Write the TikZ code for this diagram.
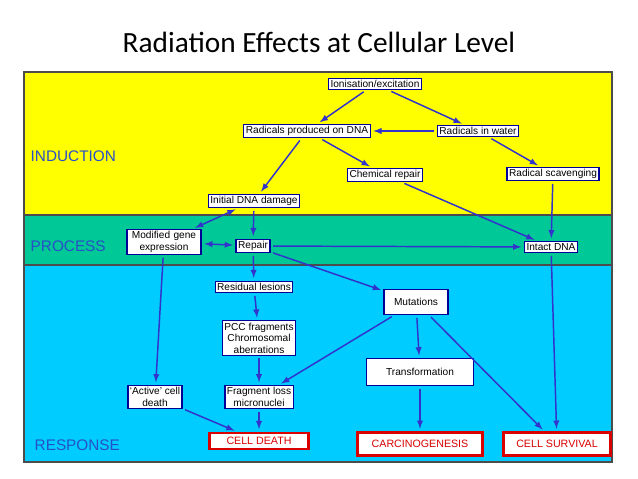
\documentclass[tikz,border=0pt]{standalone}
\usepackage{fontspec}
\setmainfont{Liberation Sans}
\newfontfamily\titlefont{Carlito}
\definecolor{induct}{RGB}{255,255,0}
\definecolor{procs}{RGB}{0,200,150}
\definecolor{resp}{RGB}{0,204,255}
\definecolor{flow}{RGB}{50,50,205}
\definecolor{lab}{RGB}{40,80,200}
\tikzset{
  box/.style={draw=navy, fill=white, line width=0.9pt, inner sep=1.5pt,
    font=\fontsize{7.6}{8.6}\selectfont, align=center},
  outbox/.style={draw=red!85!black, fill=white, line width=2pt, inner sep=3pt,
    text=red!85!black, font=\fontsize{8}{9}\selectfont, minimum height=17pt},
  link/.style={->, >=latex, draw=flow, line width=1.1pt, shorten <=2pt, shorten >=2pt},
  stage/.style={text=lab, font=\fontsize{11.5}{12}\selectfont, anchor=west}
}
\colorlet{navy}{blue!60!black}
\begin{document}
\begin{tikzpicture}[x=0.75pt, y=-0.75pt]
\useasboundingbox (0,0) rectangle (638,478);

% title
\node (title) at (319,42) {\titlefont\fontsize{22}{24}\selectfont Radiation Effects at Cellular Level};

% bands
\fill[induct] (24,72) rectangle (612,215);
\fill[procs] (24,215) rectangle (612,265);
\fill[resp] (24,265) rectangle (612,462);
\draw[black!70, line width=0.8pt] (24,72) rectangle (612,462);
\draw[black!70, line width=0.8pt] (24,215) -- (612,215);
\draw[black!70, line width=0.8pt] (24,265) -- (612,265);

% stage labels
\node[stage] (induction) at (26,156) {INDUCTION};
\node[stage] (process) at (26,246) {PROCESS};
\node[stage] (response) at (30,445) {RESPONSE};

% induction
\node[box] (ion) at (375,84) {Ionisation/excitation};
\node[box] (raddna) at (307,131) {Radicals produced on DNA};
\node[box] (radwater) at (478,131) {Radicals in water};
\node[box] (chem) at (385,175) {Chemical repair};
\node[box] (scav) at (553,174) {Radical scavenging};
\node[box] (initial) at (254,201) {Initial DNA damage};

% process
\node[box, text width=70pt*0.75] (gene) at (164,242) {Modified gene expression};
\node[box] (repair) at (253,246) {Repair};
\node[box] (intact) at (551,247) {Intact DNA};

% response
\node[box] (residual) at (254,287) {Residual lesions};
\node[box, minimum width=48pt, minimum height=19pt] (mut) at (416,302) {Mutations};
\node[box] (pcc) at (259,338) {PCC fragments\\Chromosomal\\aberrations};
\node[box, minimum width=80pt, minimum height=20pt] (transf) at (420,372) {Transformation};
\node[box] (active) at (155,397) {`Active' cell\\death};
\node[box] (fragment) at (259,397) {Fragment loss\\micronuclei};
\node[outbox, minimum height=12pt, inner sep=2pt, minimum width=74pt] (death) at (259,441) {CELL DEATH};
\node[outbox, minimum width=94pt] (carcino) at (420,444) {CARCINOGENESIS};
\node[outbox, minimum width=80pt] (survival) at (557,444) {CELL SURVIVAL};

% connectors
\draw[link] (ion) -- (raddna);
\draw[link] (ion) -- (radwater);
\draw[link] (radwater) -- (raddna);
\draw[link] (raddna) -- (initial);
\draw[link] (raddna) -- (chem);
\draw[link] (radwater) -- (scav);
\draw[link] (chem) -- (intact);
\draw[link] (scav) -- (intact);
\draw[link, <->] (initial) -- (gene);
\draw[link] (initial) -- (repair);
\draw[link, <->] (gene) -- (repair);
\draw[link] (repair) -- (intact);
\draw[link] (repair) -- (residual);
\draw[link] (repair) -- (mut);
\draw[link] (gene) -- (active);
\draw[link] (residual) -- (pcc);
\draw[link] (pcc) -- (fragment);
\draw[link] (mut) -- (fragment);
\draw[link] (mut) -- (transf);
\draw[link] (mut) -- (survival);
\draw[link] (intact) -- (survival);
\draw[link] (transf) -- (carcino);
\draw[link] (fragment) -- (death);
\draw[link] (active) -- (death);
\end{tikzpicture}
\end{document}
